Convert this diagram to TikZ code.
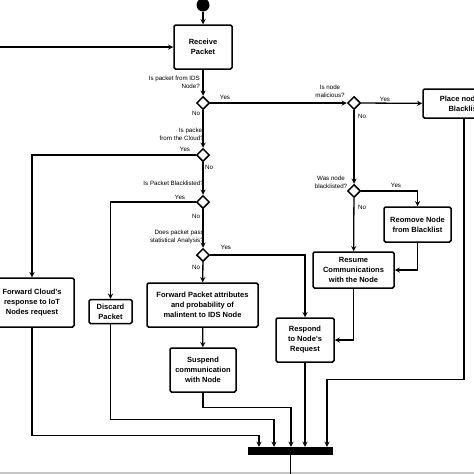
\documentclass[tikz,border=0pt]{standalone}
\usepackage{fontspec}
\setmainfont{Liberation Sans}
\usetikzlibrary{shapes.geometric, positioning, arrows, calc}
\tikzset{
    act/.style={ % Activity boxes
        draw,
        rectangle,
        rounded corners=1.5pt,
        line width=1.5pt,
        align=center,
        inner sep=0pt,
        font=\fontsize{7.5}{10}\selectfont\bfseries
    },
    dec/.style={ % Decision diamonds
        draw,
        diamond,
        line width=1.5pt,
        minimum width=13pt,
        minimum height=13pt,
        inner sep=0pt
    },
    txt/.style={ % Guards and questions
        inner sep=0pt,
        font=\fontsize{6.2}{8}\selectfont
    },
    flow/.style={ % Transitions
        draw,
        ->,>=stealth,
        line width=1.3pt
    },
}

\begin{document}
\begin{tikzpicture}[x=1pt,y=-1pt]
            \useasboundingbox (0,0) rectangle (474,474);
            \clip (0,0) rectangle (474,474);
            \fill[gray!45] (0,471.5) rectangle (474,474);

            \node[circle, fill=black, minimum size=13pt, inner sep=0pt] (start) at (203,5) {};
            \node[act, minimum width=58pt, minimum height=44pt] (recv)    at (203,47)    {Receive\\Packet};
            \node[dec]                                          (qids)    at (203,103)   {};
            \node[dec]                                          (qmal)    at (354,103)   {};
            \node[act, minimum width=82pt, minimum height=29pt] (place)   at (464,103.5) {Place node in\\Blacklist};
            \node[dec]                                          (qcloud)  at (203,155)   {};
            \node[dec]                                          (qwas)    at (354,191)   {};
            \node[dec]                                          (qblk)    at (203,202)   {};
            \node[dec]                                          (qstat)   at (203,255)   {};
            \node[act, minimum width=67pt, minimum height=35pt] (unblk)   at (417.5,224.5) {Reomove Node\\from Blacklist};
            \node[act, minimum width=81pt, minimum height=36pt] (resume)  at (353.5,270) {Resume\\Communications\\with the Node};
            \node[act, minimum width=84pt, minimum height=49pt] (cloud)   at (32,302.5)  {Forward Cloud's\\response to IoT\\Nodes request};
            \node[act, minimum width=43pt, minimum height=24pt] (discard) at (110.5,311.5) {Discard\\Packet};
            \node[act, minimum width=111pt, minimum height=44pt] (fwd)    at (202.5,305) {Forward Packet attributes\\and probability of\\malintent to IDS Node};
            \node[act, minimum width=58pt, minimum height=44pt] (respond) at (305,340)   {Respond\\to Node's\\Request};
            \node[act, minimum width=66pt, minimum height=44pt] (susp)    at (203,370)   {Suspend\\communication\\with Node};
            \node[rectangle, fill=black, minimum width=85pt, minimum height=8pt, inner sep=0pt] (join) at (290.5,451) {};
            \coordinate (back) at (-5,47);
            \coordinate (out)  at (290.5,480);

            % questions
            \node[txt, align=right, anchor=south east]  (lids)   at (200,89)   {Is packet from IDS\\Node?};
            \node[txt, align=center]                    (lmal)   at (330,91.5) {Is node\\malicious?};
            \node[txt, align=right, anchor=south east]  (lcloud) at (204,141)  {Is packet\\from the Cloud?};
            \node[txt, align=center]                    (lwas)   at (331,182)  {Was node\\blacklisted?};
            \node[txt, anchor=east]                     (lblk)   at (204,183.5) {Is Packet Blacklisted?};
            \node[txt, align=right, anchor=east]        (lstat)  at (204,237)  {Does packet pass\\statistical Analysis?};

            % guards
            \node[txt] (yids)   at (225,97)  {Yes};
            \node[txt] (nids)   at (196,113) {No};
            \node[txt] (ymal)   at (385,99)  {Yes};
            \node[txt] (nmal)   at (362,116) {No};
            \node[txt] (ycloud) at (185,149) {Yes};
            \node[txt] (ncloud) at (209,167) {No};
            \node[txt] (ywas)   at (396,185) {Yes};
            \node[txt] (nwas)   at (362,207) {No};
            \node[txt] (yblk)   at (180,197) {Yes};
            \node[txt] (nblk)   at (196,216) {No};
            \node[txt] (ystat)  at (226,247) {Yes};
            \node[txt] (nstat)  at (196,267) {No};

            \draw[flow] (start) -- (recv);
            \draw[flow] (back) -- (recv);
            \draw[flow] (recv) -- (qids);
            \draw[flow] (qids) -- (qmal);
            \draw[flow] (qmal) -- (place);
            \draw[flow] (qmal) -- (qwas);
            \draw[flow] (qwas.east) -| (unblk.north);
            \draw[flow] (qwas) -- (resume);
            \draw[flow] (unblk.south) |- (resume.east);
            \draw[flow] (resume.south) |- (respond.east);
            \draw[flow] (qids) -- (qcloud);
            \draw[flow] (qcloud.west) -| (cloud.north);
            \draw[flow] (qcloud) -- (qblk);
            \draw[flow] (qblk.west) -| (discard.north);
            \draw[flow] (qblk) -- (qstat);
            \draw[flow] (qstat.east) -| (respond.north);
            \draw[flow] (qstat) -- (fwd);
            \draw[flow] (fwd) -- (susp);

            % into the join bar
            \draw[flow] (cloud.south) -- ++(0,108) -| ([xshift=-31.5pt]join.north);
            \draw[flow] (discard.south) -- ++(0,95) -| ([xshift=-16.5pt]join.north);
            \draw[flow] (susp.south) -- ++(0,15) -| ([xshift=0.5pt]join.north);
            \draw[flow] (respond.south) -- (respond.south |- join.north);
            \draw[flow] (place.south) -- ++(0,261) -| ([xshift=36.5pt]join.north);
            \draw[line width=1.3pt] (join.south) -- (out);
\end{tikzpicture}
\end{document}
